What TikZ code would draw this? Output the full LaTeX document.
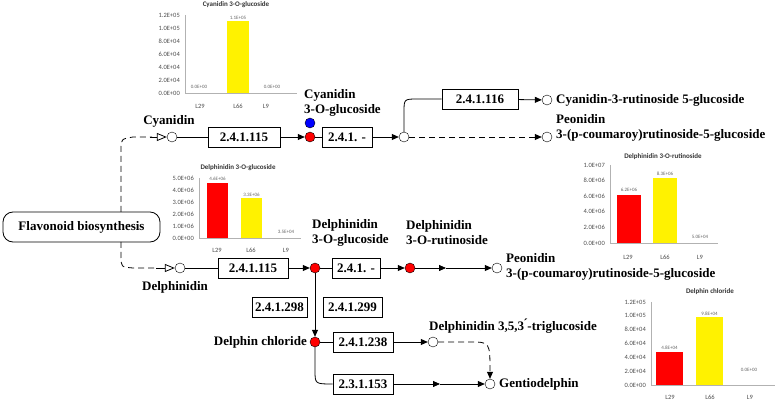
\documentclass[tikz,border=0pt]{standalone}
\usepackage{fontspec}
\setmainfont{Liberation Serif}
\newfontfamily\chartfont{Carlito}
\usetikzlibrary{arrows.meta}
\tikzset{
 lbl/.style={font=\bfseries\fontsize{13}{15}\selectfont,inner sep=1pt},
 enz/.style={draw,line width=0.8pt,font=\bfseries\fontsize{13}{14}\selectfont,minimum height=20pt,inner sep=1pt},
 oc/.style={circle,draw,fill=white,minimum size=10pt,inner sep=0pt},
 rc/.style={oc,fill=red},
 bc/.style={oc,fill=blue},
 conn/.style={line width=0.8pt},
 arr/.style={conn,-{Triangle[length=7pt,width=6pt]}},
 dashline/.style={conn,dash pattern=on 6pt off 4pt},
 axisl/.style={draw=gray!60,line width=0.6pt},
 tick/.style={font=\chartfont\fontsize{6.5}{7}\selectfont,text=black!70,inner sep=1pt},
 ttl/.style={font=\chartfont\bfseries\fontsize{7}{8}\selectfont,text=black!80,inner sep=1pt},
 val/.style={font=\chartfont\fontsize{5}{6}\selectfont,text=black!60,inner sep=1pt,anchor=south},
}
\newcommand\mkchart[6]{%
 \draw[axisl] (#1,#2-#3) -- (#1,#2) -- (#1+#4,#2);
 \foreach \i/\t in {#6} \node[tick,anchor=east] at (#1-4,#2-\i*#3/#5) {\t};}
\begin{document}
\begin{tikzpicture}[x=1pt,y=-1pt]
\useasboundingbox (0,0) rectangle (777,403);
% ---- chart 1
\mkchart{185}{93}{78}{112}{6}{0/0.0E+00,1/2.0E+04,2/4.0E+04,3/6.0E+04,4/8.0E+04,5/1.0E+05,6/1.2E+05}
\node[ttl] (t1) at (236,5) {Cyanidin 3-O-glucoside};
\fill[yellow] (227,93) rectangle (249,21.5);
\node[val] at (199,90) {0.0E+00};
\node[val] at (238,21) {1.1E+05};
\node[val] at (272,90) {0.0E+00};
\node[tick] at (200,106) {L29};\node[tick] at (238,106) {L66};\node[tick] at (266,106) {L9};
% ---- chart 2
\mkchart{199}{238}{60}{102}{5}{0/0.0E+00,1/1.0E+06,2/2.0E+06,3/3.0E+06,4/4.0E+06,5/5.0E+06}
\node[ttl] (t2) at (238,168) {Delphinidin 3-O-glucoside};
\fill[red] (207,238) rectangle (228,182.8);
\fill[yellow] (241,238) rectangle (262,198.4);
\node[val] at (217.5,182) {4.6E+06};
\node[val] at (251.5,198) {3.3E+06};
\node[val] at (286,235) {3.5E+04};
\node[tick] at (217,250) {L29};\node[tick] at (251,250) {L66};\node[tick] at (286,250) {L9};
% ---- chart 3
\mkchart{610}{243}{78}{108}{5}{0/0.0E+00,1/2.0E+06,2/4.0E+06,3/6.0E+06,4/8.0E+06,5/1.0E+07}
\node[ttl] (t3) at (663,157) {Delphinidin 3-O-rutinoside};
\fill[red] (617,243) rectangle (641,194.6);
\fill[yellow] (653,243) rectangle (677,178.3);
\node[val] at (629,193) {6.2E+06};
\node[val] at (665,177) {8.3E+06};
\node[val] at (700,240) {5.0E+04};
\node[tick] at (628,257) {L29};\node[tick] at (665,257) {L66};\node[tick] at (700,257) {L9};
% ---- chart 4
\mkchart{651}{385}{83}{124}{6}{0/0.0E+00,1/2.0E+04,2/4.0E+04,3/6.0E+04,4/8.0E+04,5/1.0E+05,6/1.2E+05}
\node[ttl] (t4) at (710,292) {Delphin chloride};
\fill[red] (656,385) rectangle (683,351.8);
\fill[yellow] (696,385) rectangle (723,317.2);
\node[val] at (669.5,351) {4.8E+04};
\node[val] at (709.5,317) {9.8E+04};
\node[val] at (749,373) {0.0E+00};
\node[tick] at (670,397) {L29};\node[tick] at (710,397) {L66};\node[tick] at (750,397) {L9};
% ---- pathway
\node[lbl,draw,rounded corners=10pt,line width=0.8pt,minimum width=157pt,minimum height=30pt] (fb) at (81.5,227) {Flavonoid biosynthesis};
\coordinate (dtop) at (121,212);
\coordinate (dbot) at (121,242);
% cyanidin row
\node[oc] (cy) at (172,137) {};
\node[lbl] (cyl) at (169,121) {Cyanidin};
\draw[dashline] (dtop) -- (121,150) .. controls (121,139) .. (133,137) -- (152,137);
\draw[conn,-{Triangle[open,length=10pt,width=8pt]}] (150,137) -- (cy);
\node[enz,minimum width=72pt] (e1) at (244,137) {2.4.1.115};
\node[rc] (c3g) at (310,137) {};
\node[bc] (c3gb) at (310,123) {};
\node[lbl,anchor=west,align=left] (c3gl) at (303,103) {Cyanidin\\3-O-glucoside};
\node[enz,minimum width=50pt] (e2) at (347,137) {2.4.1. -};
\node[oc] (cx) at (404,137) {};
\draw[conn] (cy) -- (e1);
\draw[arr] (e1) -- (c3g);
\draw[conn] (c3g) -- (e2);
\draw[arr] (e2) -- (cx);
\node[enz,minimum width=76pt] (e3) at (480,99) {2.4.1.116};
\node[oc] (cr) at (547,100) {};
\node[lbl,anchor=west] (crl) at (555,100) {Cyanidin-3-rutinoside 5-glucoside};
\draw[conn] (cx.north) -- (404,112) .. controls (404,99) .. (418,99) -- (e3.west);
\draw[arr] (e3) -- (cr);
\node[oc] (pc) at (547,137) {};
\node[lbl,anchor=west,align=left] (pcl) at (555,128) {Peonidin\\3-(p-coumaroy)rutinoside-5-glucoside};
\draw[dashline,-{Triangle[length=7pt,width=6pt]}] (cx) -- (pc);
% delphinidin row
\node[oc] (dp) at (180,268) {};
\node[lbl] (dpl) at (175,287) {Delphinidin};
\draw[dashline] (dbot) -- (121,256) .. controls (121,267) .. (133,268) -- (158,268);
\draw[conn,-{Triangle[open,length=10pt,width=8pt]}] (156,268) -- (dp);
\node[enz,minimum width=70pt] (e4) at (253,268) {2.4.1.115};
\node[rc] (d3g) at (315,268) {};
\node[lbl,anchor=west,align=left] (d3gl) at (311,233) {Delphinidin\\ 3-O-glucoside};
\node[enz,minimum width=48pt] (e5) at (356,268) {2.4.1. -};
\node[rc] (d3r) at (410,268) {};
\node[lbl,anchor=west,align=left] (d3rl) at (405,233) {Delphinidin\\3-O-rutinoside};
\node[oc] (pd) at (497,268) {};
\node[lbl,anchor=west,align=left] (pdl) at (505,267) {Peonidin\\3-(p-coumaroy)rutinoside-5-glucoside};
\draw[conn] (dp) -- (e4);
\draw[arr] (e4) -- (d3g);
\draw[conn] (d3g) -- (e5);
\draw[arr] (e5) -- (d3r);
\draw[arr] (d3r) -- (446,268);
\draw[arr] (446,268) -- (pd);
% delphin chloride
\node[rc] (dc) at (315,342) {};
\node[lbl,anchor=east] (dcl) at (308,342) {Delphin chloride};
\draw[arr] (d3g) -- (dc);
\node[enz,minimum width=55pt] (e6) at (279.5,307) {2.4.1.298};
\node[enz,minimum width=59pt] (e7) at (352.5,307) {2.4.1.299};
\node[enz,minimum width=60pt] (e8) at (363,342) {2.4.1.238};
\node[oc] (tg) at (433,342) {};
\node[lbl,anchor=west] (tgl) at (428,326) {Delphinidin 3,5,3\'{}-triglucoside};
\draw[conn] (dc) -- (e8);
\draw[arr] (e8) -- (tg);
\node[oc] (gd) at (490,384) {};
\node[lbl,anchor=west] (gdl) at (498,384) {Gentiodelphin};
\draw[dashline,-{Triangle[length=7pt,width=6pt]}] (tg.east) -- (470,342) .. controls (490,342) .. (gd.north);
\node[enz,minimum width=60pt] (e9) at (363,384) {2.3.1.153};
\draw[conn] (dc.south) -- (315,370) .. controls (315,384) .. (e9.west);
\draw[arr] (e9.east) -- (440,384);
\draw[arr] (440,384) -- (gd);
\end{tikzpicture}
\end{document}
